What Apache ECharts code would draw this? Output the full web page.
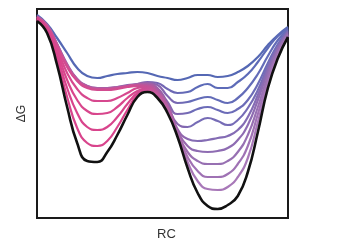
<!DOCTYPE html>
<html><head><meta charset="utf-8">
<script src="https://cdn.jsdelivr.net/npm/echarts@6/dist/echarts.min.js"></script>
<style>html,body{margin:0;padding:0;background:#fff}#c{width:338px;height:250px}</style>
</head><body><div id="c"></div>
<script>
// reaction coordinate positions
const rc = [0,10,20,30,40,50,60,70,80,90,100,110,120,130,140,150,160,170,180,190,200,210,220,230,240,250];
// free-energy profiles, bottom (black) to top (blue)
const g0  = [197,185,153,111,75,57,56,66,83,103,121,126,120,105,81,50,25,12,9,13,22,46,86,130,160,181];
const g1  = [198,187,158,121,90,75,72,77,91,108,123,128,123,108,83,56,37,29,28,31,41,60,96,134,163,182];
const g2  = [199,188,162,130,105,91,88,91,101,114,125,129,124,110,84,61,47,41,41,44,54,72,104,138,165,183];
const g3  = [199,189,166,138,118,107,104,105,111,120,127,130,125,111,85,66,57,54,54,57,66,83,111,142,167,184];
const g4  = [200,190,169,145,129,120,117,117,120,125,130,131,126,112,87,72,67,66,67,70,78,93,118,146,169,185];
const g5  = [200,191,172,151,137,130,128,128,129,131,132,132,127,113,89,79,77,78,80,82,88,101,123,149,171,186];
const g6  = [201,192,173,152,138,131,129,129,130,132,133,133,129,113,94,91,96,100,97,93,98,110,128,152,172,187];
const g7  = [201,192,173,153,138,131,129,129,130,132,133,134,130,116,104,105,109,111,108,105,109,118,134,155,174,188];
const g8  = [201,193,174,153,139,132,130,130,131,132,134,135,133,122,115,116,119,121,118,115,120,130,144,162,178,189];
const g9  = [202,193,174,154,139,132,130,130,131,133,134,136,135,129,125,126,131,134,130,130,136,144,156,170,182,190];
const g10 = [203,194,180,165,150,142,140,142,144,145,146,145,142,140,138,140,143,143,141,142,146,152,161,173,183,191];
const profiles = [g0,g1,g2,g3,g4,g5,g6,g7,g8,g9,g10];
const rightColors = ['#111111','#a878b8','#9f72b4','#9770b2','#8e6cb2','#846cb4','#766cb6','#6c6cb8','#636cb8','#5d6bb8','#5568b4'];
const leftColors  = ['#111111','#d8448c','#d8448c','#d8468c','#d6488e','#d24c90','#c85296','#bc5a9c','#aa5ea4','#8a62ae','#5568b4'];

function grad(l, r){
  return {type:'linear',x:0,y:0,x2:1,y2:0,colorStops:[
    {offset:0,color:l},{offset:0.38,color:l},{offset:0.62,color:r},{offset:1,color:r}]};
}
const series = [];
for (let i = profiles.length - 1; i >= 0; i--) {
  series.push({
    type:'line', smooth:0.5, showSymbol:false, silent:true,
    data: rc.map((x,k)=>[x, profiles[i][k]]),
    lineStyle:{width: i===0 ? 2.6 : 2.2, color: i===0 ? '#111' : grad(leftColors[i], rightColors[i])},
    z: i===0 ? 10 : 2 + (profiles.length - i) * 0.01
  });
}
const chart = echarts.init(document.getElementById('c'), null, {renderer:'canvas'});
chart.setOption({
  animation:false,
  grid:{left:37,right:50,top:9,bottom:32,show:true,borderColor:'#1a1a1a',borderWidth:2,backgroundColor:'transparent'},
  xAxis:{type:'value',min:0,max:250,axisLine:{show:false},axisTick:{show:false},axisLabel:{show:false},splitLine:{show:false},
    name:'RC',nameLocation:'middle',nameGap:10,nameTextStyle:{color:'#333',fontSize:13,padding:[0,0,0,8],fontFamily:'Liberation Sans, Arial, sans-serif'}},
  yAxis:{type:'value',min:0,max:209,axisLine:{show:false},axisTick:{show:false},axisLabel:{show:false},splitLine:{show:false},
    name:'ΔG',nameLocation:'middle',nameGap:9,nameRotate:90,nameTextStyle:{color:'#333',fontSize:12,fontFamily:'Liberation Sans, Arial, sans-serif'}},
  series: series
});
</script></body></html>
